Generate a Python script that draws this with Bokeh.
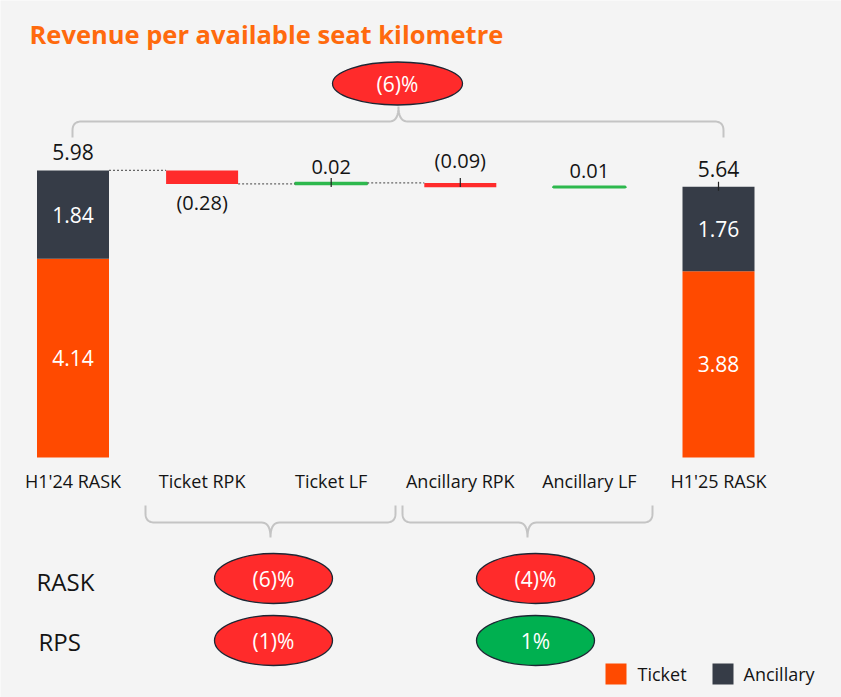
import numpy as np
from bokeh.plotting import figure
from bokeh.models import Range1d
from bokeh.core.properties import value
from bokeh.embed import file_html
from bokeh.resources import INLINE

# ---------------- data ----------------
title = "Revenue per available seat kilometre"
categories = ["H1'24 RASK", "Ticket RPK", "Ticket LF", "Ancillary RPK", "Ancillary LF", "H1'25 RASK"]
start_ticket = 4.14
start_ancillary = 1.84
start_total = 5.98
end_ticket = 3.88
end_ancillary = 1.76
end_total = 5.64
bridge_steps = [-0.28, 0.02, -0.09, 0.01]
total_change = "(6)%"
group_labels = ["RASK", "RPS"]
rask_change = ["(6)%", "(4)%"]
rps_change = ["(1)%", "1%"]
legend_labels = ["Ticket", "Ancillary"]

# ---------------- styling ----------------
FONT = value("Open Sans")
BG = "#f4f4f4"
C_TICKET = "#ff4a00"
C_ANC = "#363c47"
C_NEG = "#ff2b2b"
C_POS = "#2db84d"
C_OVAL_POS = "#00b050"
C_BRACE = "#c4c4c4"
C_TITLE = "#ff6a0d"
C_TEXT = "#141414"

W, H = 841, 697
XS = 129.1          # px per category
X_ORIGIN = 72.5     # px of first category centre
BASE = 457.0        # px of value 0
YS = 48.0           # px per unit

X0 = -X_ORIGIN / XS
X1 = (W - X_ORIGIN) / XS
Y0 = -(H - BASE) / YS
Y1 = BASE / YS


def X(px):
    return X0 + px / XS


def Y(py):
    return (BASE - py) / YS


def DY(px):
    return px / YS


p = figure(width=W, height=H, x_range=Range1d(X0, X1), y_range=Range1d(Y0, Y1),
           x_axis_type=None, y_axis_type=None, output_backend="svg",
           toolbar_location=None, min_border=0)
p.grid.visible = False
p.outline_line_color = None
p.background_fill_color = BG
p.border_fill_color = BG

BW = 72.0 / XS
n = len(categories)
xs = list(range(n))

# ---------------- total bars ----------------
tot_x = [0, n - 1]
tickets = [start_ticket, end_ticket]
ancs = [start_ancillary, end_ancillary]
totals = [start_total, end_total]
p.vbar(x=tot_x, width=BW, bottom=0, top=tickets, fill_color=C_TICKET, line_color=None)
p.vbar(x=tot_x, width=BW, bottom=tickets, top=[t + a for t, a in zip(tickets, ancs)],
       fill_color=C_ANC, line_color=None)

p.text(x=tot_x, y=totals, text=[f"{v:.2f}" for v in totals], text_font=FONT,
       text_font_size="21px", text_color=C_TEXT, text_align="center",
       text_baseline="bottom", y_offset=-10)
p.text(x=tot_x, y=[t / 2 for t in tickets], text=[f"{v:.2f}" for v in tickets],
       text_font=FONT, text_font_size="21px", text_color="white",
       text_align="center", text_baseline="middle")
p.text(x=tot_x, y=[t + a / 2 for t, a in zip(tickets, ancs)], text=[f"{v:.2f}" for v in ancs],
       text_font=FONT, text_font_size="21px", text_color="white",
       text_align="center", text_baseline="middle")

# ---------------- bridge ----------------
levels = [start_total]
for s in bridge_steps:
    levels.append(levels[-1] + s)

for i, s in enumerate(bridge_steps):
    xi = i + 1
    lo, hi = min(levels[i], levels[i + 1]), max(levels[i], levels[i + 1])
    col = C_NEG if s < 0 else C_POS
    p.vbar(x=[xi], width=BW, bottom=[lo], top=[hi], fill_color=col,
           line_color=None if s < 0 else col, line_width=2.5)
    lab = f"({abs(s):.2f})" if s < 0 else f"{s:.2f}"
    if s < 0 and abs(s) >= 0.2:
        p.text(x=[xi], y=[lo], text=[lab], text_font=FONT, text_font_size="20px",
               text_color=C_TEXT, text_align="center", text_baseline="top", y_offset=5)
    else:
        p.text(x=[xi], y=[hi], text=[lab], text_font=FONT, text_font_size="20px",
               text_color=C_TEXT, text_align="center", text_baseline="bottom", y_offset=-9)

# dotted connectors
for i in range(3):
    p.segment(x0=[i + BW / 2], y0=[levels[i]], x1=[i + 1 - BW / 2], y1=[levels[i]],
              line_color="#666666", line_width=1.2, line_dash="2 2")

# small tick marks
tick_x = [2, 3, n - 1]
tick_top = [max(levels[1], levels[2]), max(levels[2], levels[3]), end_total]
p.segment(x0=tick_x, y0=[t + DY(5) for t in tick_top], x1=tick_x,
          y1=[t - DY(4) for t in tick_top], line_color="#222222", line_width=1.2)

# category labels
p.text(x=xs, y=[Y(480)] * n, text=categories, text_font=FONT, text_font_size="18px",
       text_color=C_TEXT, text_align="center", text_baseline="middle")


# ---------------- braces ----------------
def quad_pts(p0, c, p1, k=10):
    t = np.linspace(0, 1, k)
    xq = (1 - t) ** 2 * p0[0] + 2 * (1 - t) * t * c[0] + t ** 2 * p1[0]
    yq = (1 - t) ** 2 * p0[1] + 2 * (1 - t) * t * c[1] + t ** 2 * p1[1]
    return list(xq), list(yq)


def brace(x0, x1, xm, y_end, y_line, y_tip, r=9):
    sgn = 1 if y_end > y_line else -1
    px, py = [x0], [y_end]
    a, b = quad_pts((x0, y_line + sgn * r), (x0, y_line), (x0 + r, y_line))
    px += a; py += b
    a, b = quad_pts((xm - r, y_line), (xm, y_line), (xm, y_tip))
    px += a; py += b
    a, b = quad_pts((xm, y_tip), (xm, y_line), (xm + r, y_line))
    px += a; py += b
    a, b = quad_pts((x1 - r, y_line), (x1, y_line), (x1, y_line + sgn * r))
    px += a; py += b
    px.append(x1); py.append(y_end)
    p.line(x=[X(v) for v in px], y=[Y(v) for v in py], line_color=C_BRACE, line_width=2)


brace(72, 723, 398, 137, 121, 106)
brace(145, 395, 270, 505, 522, 537)
brace(402, 652, 527, 505, 522, 537)


# ---------------- ovals ----------------
def oval(cx, cy, w, h, label):
    fill = C_NEG if label.startswith("(") else C_OVAL_POS
    p.ellipse(x=[X(cx)], y=[Y(cy)], width=[w], height=[h], width_units="screen",
              height_units="screen", fill_color=fill, line_color="#1d2633", line_width=1.3)
    p.text(x=[X(cx)], y=[Y(cy)], text=[label], text_font=FONT, text_font_size="21px",
           text_color="white", text_align="center", text_baseline="middle")


oval(397, 83, 130, 43, total_change)
for j, lab in enumerate(rask_change):
    oval([273, 535][j], 578, 118, 50, lab)
for j, lab in enumerate(rps_change):
    oval([273, 535][j], 640, 118, 50, lab)

p.text(x=[X(36), X(38)], y=[Y(581), Y(641)], text=group_labels, text_font=FONT,
       text_font_size="24px", text_color=C_TEXT, text_align="left", text_baseline="middle")

# ---------------- legend ----------------
p.quad(left=[X(605), X(712)], right=[X(626), X(733)], top=[Y(663)] * 2, bottom=[Y(684)] * 2,
       fill_color=[C_TICKET, C_ANC], line_color=None)
p.text(x=[X(637), X(743)], y=[Y(673)] * 2, text=legend_labels, text_font=FONT,
       text_font_size="18px", text_color=C_TEXT, text_align="left", text_baseline="middle")

# ---------------- title ----------------
p.text(x=[X(29)], y=[Y(33)], text=[title], text_font=FONT, text_font_size="25.5px",
       text_font_style="bold", text_color=C_TITLE, text_align="left", text_baseline="middle")

open("out.html", "w").write(file_html(p, INLINE))
